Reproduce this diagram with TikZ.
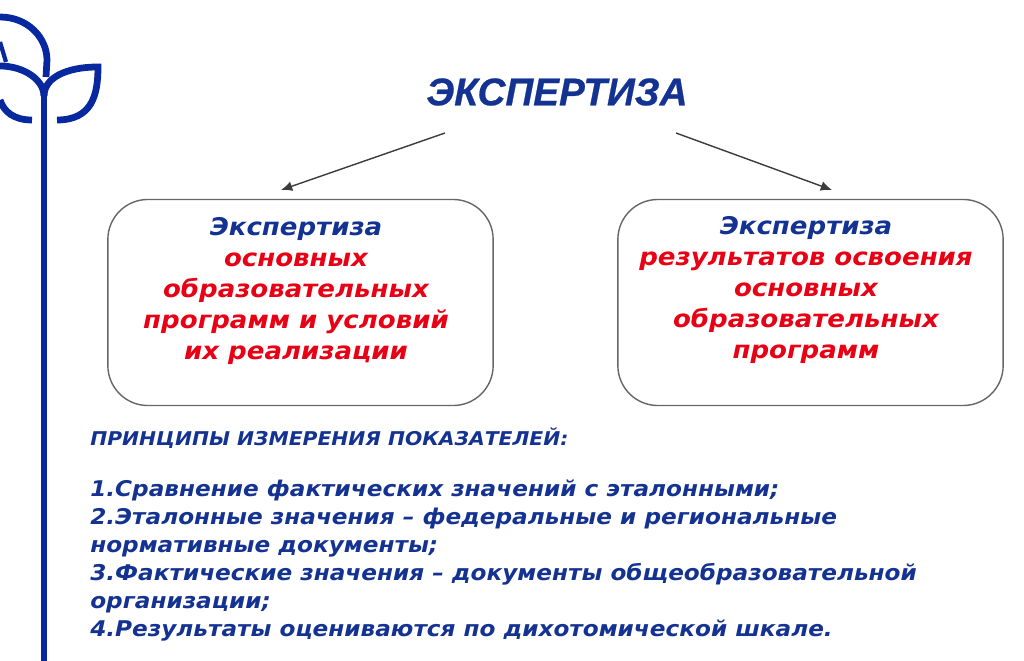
\documentclass[tikz,border=0pt]{standalone}
\usepackage{fontspec}
\setmainfont{DejaVu Sans}[FakeStretch=1.07]
\newfontfamily\titlefont{Liberation Sans}[FakeBold=0.6]
\usepackage{xcolor}
\usetikzlibrary{arrows.meta,positioning}
\definecolor{navy}{RGB}{20,50,145}
\definecolor{logoblue}{RGB}{8,40,160}
\definecolor{redtxt}{RGB}{232,0,20}
\definecolor{linegray}{RGB}{60,60,60}

\begin{document}
\begin{tikzpicture}[x=0.025cm, y=-0.025cm,
    headtxt/.style={font=\titlefont\bfseries\itshape\fontsize{27.5}{30}\selectfont, text=navy, inner sep=0pt},
    roundbox/.style={draw=black!60, line width=1pt, rounded corners=1cm, minimum width=9.63cm, minimum height=5.15cm, inner sep=0pt},
    boxtxt/.style={align=center, inner sep=0pt, font=\bfseries\itshape\fontsize{17.3}{22.2}\selectfont, text=redtxt},
    listtxt/.style={font=\bfseries\itshape\fontsize{15.4}{19.9}\selectfont, text=navy, inner sep=0pt, align=left, anchor=north west},
    pointer/.style={draw=linegray, line width=1pt, -{Latex[length=8pt,width=7pt]}},
    logo/.style={draw=logoblue, line width=4.8pt}]
    \useasboundingbox (0,0) rectangle (1024,661);

    % leaf logo
    \draw[logo,line width=4pt] (44,661) -- (44,96);
    \draw[logo] (0,17) .. controls (28,17) and (47,38) .. (47,60) -- (46,77);
    \draw[logo] (0,66) .. controls (24,66) and (44,80) .. (44,96);
    \draw[logo,miter limit=10] (44,96) .. controls (44,78) and (66,67) .. (98,67) .. controls (98,95) and (92,120) .. (57,120);
    \draw[logo] (0,100) .. controls (4,112) and (14,120) .. (32,120);
    \draw[logo,line width=3pt] (0,42) -- (6,62);

    \node[headtxt] (title) at (557,92) {ЭКСПЕРТИЗА};

    \node[roundbox] (leftbox) at (300.5,302.5) {};
    \node[roundbox] (rightbox) at (810.5,302.5) {};
    \node[boxtxt] (lefttxt) at (296,291) {{\color{navy}Экспертиза}\\основных\\образовательных\\программ и условий\\их реализации};
    \node[boxtxt] (righttxt) at (806,290) {{\color{navy}Экспертиза}\\результатов освоения\\основных\\образовательных\\программ};

    \coordinate (fromL) at (445,133);
    \coordinate (toL) at (281,190);
    \coordinate (fromR) at (676,133);
    \coordinate (toR) at (832,190);
    \draw[pointer] (fromL) -- (toL);
    \draw[pointer] (fromR) -- (toR);

    \node[listtxt] (caption) at (90,428) {\fontsize{13.5}{19.9}\selectfont ПРИНЦИПЫ ИЗМЕРЕНИЯ ПОКАЗАТЕЛЕЙ:};
    \node[listtxt] (rules) at (90,480) {1.Сравнение фактических значений с эталонными;\\
    2.Эталонные значения – федеральные и региональные\\
    нормативные документы;\\
    3.Фактические значения – документы общеобразовательной\\
    организации;\\
    4.Результаты оцениваются по дихотомической шкале.};
\end{tikzpicture}
\end{document}
